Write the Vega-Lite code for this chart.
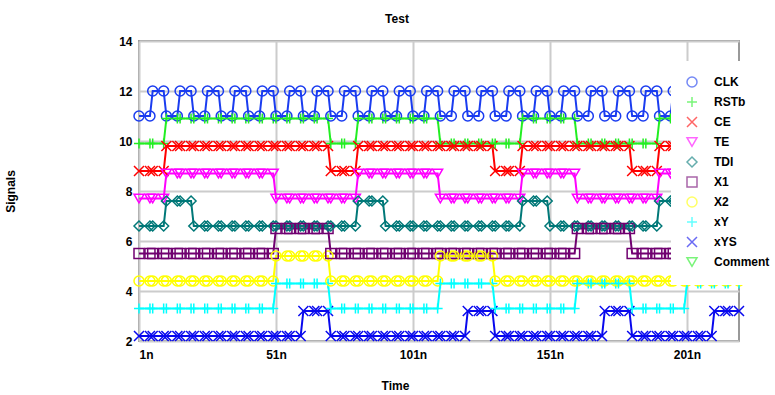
{
  "$schema": "https://vega.github.io/schema/vega-lite/v6.json",
  "width": 600,
  "height": 300,
  "autosize": {"type": "none"},
  "padding": {"left": 139, "top": 41, "right": 36, "bottom": 54},
  "background": "white",
  "title": {"text": "Test", "font": "Liberation Sans", "fontSize": 12, "fontWeight": "bold", "color": "black", "frame": "group", "anchor": "middle", "offset": 9, "dx": -42},
  "config": {
    "view": {"stroke": "#999999", "strokeWidth": 2},
    "axis": {
      "labelFont": "Liberation Sans", "labelFontSize": 12, "labelFontWeight": "bold", "labelColor": "black",
      "titleFont": "Liberation Sans", "titleFontSize": 12, "titleFontWeight": "bold", "titleColor": "black",
      "gridColor": "#cccccc", "gridWidth": 2, "domain": false, "ticks": false
    }
  },
  "data": {"values": [
    {"t":1,"CLK":11,"RSTb":9.9,"CE":8.8,"TE":7.7,"TDI":6.6,"X1":5.5,"X2":4.4,"xY":3.3,"xYS":2.2},
    {"t":5,"CLK":11,"RSTb":9.9,"CE":8.8,"TE":7.7,"TDI":6.6,"X1":5.5,"X2":4.4,"xY":3.3,"xYS":2.2},
    {"t":6,"CLK":12,"RSTb":9.9,"CE":8.8,"TE":7.7,"TDI":6.6,"X1":5.5,"X2":4.4,"xY":3.3,"xYS":2.2},
    {"t":10,"CLK":12,"RSTb":9.9,"CE":8.8,"TE":7.7,"TDI":6.6,"X1":5.5,"X2":4.4,"xY":3.3,"xYS":2.2},
    {"t":11,"CLK":11,"RSTb":10.9,"CE":9.8,"TE":8.7,"TDI":7.6,"X1":5.5,"X2":4.4,"xY":3.3,"xYS":2.2},
    {"t":15,"CLK":11,"RSTb":10.9,"CE":9.8,"TE":8.7,"TDI":7.6,"X1":5.5,"X2":4.4,"xY":3.3,"xYS":2.2},
    {"t":16,"CLK":12,"RSTb":10.9,"CE":9.8,"TE":8.7,"TDI":7.6,"X1":5.5,"X2":4.4,"xY":3.3,"xYS":2.2},
    {"t":20,"CLK":12,"RSTb":10.9,"CE":9.8,"TE":8.7,"TDI":7.6,"X1":5.5,"X2":4.4,"xY":3.3,"xYS":2.2},
    {"t":21,"CLK":11,"RSTb":10.9,"CE":9.8,"TE":8.7,"TDI":6.6,"X1":5.5,"X2":4.4,"xY":3.3,"xYS":2.2},
    {"t":25,"CLK":11,"RSTb":10.9,"CE":9.8,"TE":8.7,"TDI":6.6,"X1":5.5,"X2":4.4,"xY":3.3,"xYS":2.2},
    {"t":26,"CLK":12,"RSTb":10.9,"CE":9.8,"TE":8.7,"TDI":6.6,"X1":5.5,"X2":4.4,"xY":3.3,"xYS":2.2},
    {"t":30,"CLK":12,"RSTb":10.9,"CE":9.8,"TE":8.7,"TDI":6.6,"X1":5.5,"X2":4.4,"xY":3.3,"xYS":2.2},
    {"t":31,"CLK":11,"RSTb":10.9,"CE":9.8,"TE":8.7,"TDI":6.6,"X1":5.5,"X2":4.4,"xY":3.3,"xYS":2.2},
    {"t":35,"CLK":11,"RSTb":10.9,"CE":9.8,"TE":8.7,"TDI":6.6,"X1":5.5,"X2":4.4,"xY":3.3,"xYS":2.2},
    {"t":36,"CLK":12,"RSTb":10.9,"CE":9.8,"TE":8.7,"TDI":6.6,"X1":5.5,"X2":4.4,"xY":3.3,"xYS":2.2},
    {"t":40,"CLK":12,"RSTb":10.9,"CE":9.8,"TE":8.7,"TDI":6.6,"X1":5.5,"X2":4.4,"xY":3.3,"xYS":2.2},
    {"t":41,"CLK":11,"RSTb":10.9,"CE":9.8,"TE":8.7,"TDI":6.6,"X1":5.5,"X2":4.4,"xY":3.3,"xYS":2.2},
    {"t":45,"CLK":11,"RSTb":10.9,"CE":9.8,"TE":8.7,"TDI":6.6,"X1":5.5,"X2":4.4,"xY":3.3,"xYS":2.2},
    {"t":46,"CLK":12,"RSTb":10.9,"CE":9.8,"TE":8.7,"TDI":6.6,"X1":5.5,"X2":4.4,"xY":3.3,"xYS":2.2},
    {"t":50,"CLK":12,"RSTb":10.9,"CE":9.8,"TE":8.7,"TDI":6.6,"X1":5.5,"X2":4.4,"xY":3.3,"xYS":2.2},
    {"t":51,"CLK":11,"RSTb":10.9,"CE":9.8,"TE":7.7,"TDI":6.6,"X1":6.5,"X2":5.4,"xY":4.3,"xYS":2.2},
    {"t":55,"CLK":11,"RSTb":10.9,"CE":9.8,"TE":7.7,"TDI":6.6,"X1":6.5,"X2":5.4,"xY":4.3,"xYS":2.2},
    {"t":56,"CLK":12,"RSTb":10.9,"CE":9.8,"TE":7.7,"TDI":6.6,"X1":6.5,"X2":5.4,"xY":4.3,"xYS":2.2},
    {"t":60,"CLK":12,"RSTb":10.9,"CE":9.8,"TE":7.7,"TDI":6.6,"X1":6.5,"X2":5.4,"xY":4.3,"xYS":2.2},
    {"t":61,"CLK":11,"RSTb":10.9,"CE":9.8,"TE":7.7,"TDI":6.6,"X1":6.5,"X2":5.4,"xY":4.3,"xYS":3.2},
    {"t":65,"CLK":11,"RSTb":10.9,"CE":9.8,"TE":7.7,"TDI":6.6,"X1":6.5,"X2":5.4,"xY":4.3,"xYS":3.2},
    {"t":66,"CLK":12,"RSTb":10.9,"CE":9.8,"TE":7.7,"TDI":6.6,"X1":6.5,"X2":5.4,"xY":4.3,"xYS":3.2},
    {"t":70,"CLK":12,"RSTb":10.9,"CE":9.8,"TE":7.7,"TDI":6.6,"X1":6.5,"X2":5.4,"xY":4.3,"xYS":3.2},
    {"t":71,"CLK":11,"RSTb":9.9,"CE":8.8,"TE":7.7,"TDI":6.6,"X1":5.5,"X2":4.4,"xY":3.3,"xYS":2.2},
    {"t":75,"CLK":11,"RSTb":9.9,"CE":8.8,"TE":7.7,"TDI":6.6,"X1":5.5,"X2":4.4,"xY":3.3,"xYS":2.2},
    {"t":76,"CLK":12,"RSTb":9.9,"CE":8.8,"TE":7.7,"TDI":6.6,"X1":5.5,"X2":4.4,"xY":3.3,"xYS":2.2},
    {"t":80,"CLK":12,"RSTb":9.9,"CE":8.8,"TE":7.7,"TDI":6.6,"X1":5.5,"X2":4.4,"xY":3.3,"xYS":2.2},
    {"t":81,"CLK":11,"RSTb":10.9,"CE":9.8,"TE":8.7,"TDI":7.6,"X1":5.5,"X2":4.4,"xY":3.3,"xYS":2.2},
    {"t":85,"CLK":11,"RSTb":10.9,"CE":9.8,"TE":8.7,"TDI":7.6,"X1":5.5,"X2":4.4,"xY":3.3,"xYS":2.2},
    {"t":86,"CLK":12,"RSTb":10.9,"CE":9.8,"TE":8.7,"TDI":7.6,"X1":5.5,"X2":4.4,"xY":3.3,"xYS":2.2},
    {"t":90,"CLK":12,"RSTb":10.9,"CE":9.8,"TE":8.7,"TDI":7.6,"X1":5.5,"X2":4.4,"xY":3.3,"xYS":2.2},
    {"t":91,"CLK":11,"RSTb":10.9,"CE":9.8,"TE":8.7,"TDI":6.6,"X1":5.5,"X2":4.4,"xY":3.3,"xYS":2.2},
    {"t":95,"CLK":11,"RSTb":10.9,"CE":9.8,"TE":8.7,"TDI":6.6,"X1":5.5,"X2":4.4,"xY":3.3,"xYS":2.2},
    {"t":96,"CLK":12,"RSTb":10.9,"CE":9.8,"TE":8.7,"TDI":6.6,"X1":5.5,"X2":4.4,"xY":3.3,"xYS":2.2},
    {"t":100,"CLK":12,"RSTb":10.9,"CE":9.8,"TE":8.7,"TDI":6.6,"X1":5.5,"X2":4.4,"xY":3.3,"xYS":2.2},
    {"t":101,"CLK":11,"RSTb":10.9,"CE":9.8,"TE":8.7,"TDI":6.6,"X1":5.5,"X2":4.4,"xY":3.3,"xYS":2.2},
    {"t":105,"CLK":11,"RSTb":10.9,"CE":9.8,"TE":8.7,"TDI":6.6,"X1":5.5,"X2":4.4,"xY":3.3,"xYS":2.2},
    {"t":106,"CLK":12,"RSTb":10.9,"CE":9.8,"TE":8.7,"TDI":6.6,"X1":5.5,"X2":4.4,"xY":3.3,"xYS":2.2},
    {"t":110,"CLK":12,"RSTb":10.9,"CE":9.8,"TE":8.7,"TDI":6.6,"X1":5.5,"X2":4.4,"xY":3.3,"xYS":2.2},
    {"t":111,"CLK":11,"RSTb":9.9,"CE":9.8,"TE":7.7,"TDI":6.6,"X1":5.5,"X2":5.4,"xY":4.3,"xYS":2.2},
    {"t":115,"CLK":11,"RSTb":9.9,"CE":9.8,"TE":7.7,"TDI":6.6,"X1":5.5,"X2":5.4,"xY":4.3,"xYS":2.2},
    {"t":116,"CLK":12,"RSTb":9.9,"CE":9.8,"TE":7.7,"TDI":6.6,"X1":5.5,"X2":5.4,"xY":4.3,"xYS":2.2},
    {"t":120,"CLK":12,"RSTb":9.9,"CE":9.8,"TE":7.7,"TDI":6.6,"X1":5.5,"X2":5.4,"xY":4.3,"xYS":2.2},
    {"t":121,"CLK":11,"RSTb":9.9,"CE":9.8,"TE":7.7,"TDI":6.6,"X1":5.5,"X2":5.4,"xY":4.3,"xYS":3.2},
    {"t":125,"CLK":11,"RSTb":9.9,"CE":9.8,"TE":7.7,"TDI":6.6,"X1":5.5,"X2":5.4,"xY":4.3,"xYS":3.2},
    {"t":126,"CLK":12,"RSTb":9.9,"CE":9.8,"TE":7.7,"TDI":6.6,"X1":5.5,"X2":5.4,"xY":4.3,"xYS":3.2},
    {"t":130,"CLK":12,"RSTb":9.9,"CE":9.8,"TE":7.7,"TDI":6.6,"X1":5.5,"X2":5.4,"xY":4.3,"xYS":3.2},
    {"t":131,"CLK":11,"RSTb":9.9,"CE":8.8,"TE":7.7,"TDI":6.6,"X1":5.5,"X2":4.4,"xY":3.3,"xYS":2.2},
    {"t":135,"CLK":11,"RSTb":9.9,"CE":8.8,"TE":7.7,"TDI":6.6,"X1":5.5,"X2":4.4,"xY":3.3,"xYS":2.2},
    {"t":136,"CLK":12,"RSTb":9.9,"CE":8.8,"TE":7.7,"TDI":6.6,"X1":5.5,"X2":4.4,"xY":3.3,"xYS":2.2},
    {"t":140,"CLK":12,"RSTb":9.9,"CE":8.8,"TE":7.7,"TDI":6.6,"X1":5.5,"X2":4.4,"xY":3.3,"xYS":2.2},
    {"t":141,"CLK":11,"RSTb":10.9,"CE":9.8,"TE":8.7,"TDI":7.6,"X1":5.5,"X2":4.4,"xY":3.3,"xYS":2.2},
    {"t":145,"CLK":11,"RSTb":10.9,"CE":9.8,"TE":8.7,"TDI":7.6,"X1":5.5,"X2":4.4,"xY":3.3,"xYS":2.2},
    {"t":146,"CLK":12,"RSTb":10.9,"CE":9.8,"TE":8.7,"TDI":7.6,"X1":5.5,"X2":4.4,"xY":3.3,"xYS":2.2},
    {"t":150,"CLK":12,"RSTb":10.9,"CE":9.8,"TE":8.7,"TDI":7.6,"X1":5.5,"X2":4.4,"xY":3.3,"xYS":2.2},
    {"t":151,"CLK":11,"RSTb":10.9,"CE":9.8,"TE":8.7,"TDI":6.6,"X1":5.5,"X2":4.4,"xY":3.3,"xYS":2.2},
    {"t":155,"CLK":11,"RSTb":10.9,"CE":9.8,"TE":8.7,"TDI":6.6,"X1":5.5,"X2":4.4,"xY":3.3,"xYS":2.2},
    {"t":156,"CLK":12,"RSTb":10.9,"CE":9.8,"TE":8.7,"TDI":6.6,"X1":5.5,"X2":4.4,"xY":3.3,"xYS":2.2},
    {"t":160,"CLK":12,"RSTb":10.9,"CE":9.8,"TE":8.7,"TDI":6.6,"X1":5.5,"X2":4.4,"xY":3.3,"xYS":2.2},
    {"t":161,"CLK":11,"RSTb":9.9,"CE":9.8,"TE":7.7,"TDI":6.6,"X1":6.5,"X2":4.4,"xY":4.3,"xYS":2.2},
    {"t":165,"CLK":11,"RSTb":9.9,"CE":9.8,"TE":7.7,"TDI":6.6,"X1":6.5,"X2":4.4,"xY":4.3,"xYS":2.2},
    {"t":166,"CLK":12,"RSTb":9.9,"CE":9.8,"TE":7.7,"TDI":6.6,"X1":6.5,"X2":4.4,"xY":4.3,"xYS":2.2},
    {"t":170,"CLK":12,"RSTb":9.9,"CE":9.8,"TE":7.7,"TDI":6.6,"X1":6.5,"X2":4.4,"xY":4.3,"xYS":2.2},
    {"t":171,"CLK":11,"RSTb":9.9,"CE":9.8,"TE":7.7,"TDI":6.6,"X1":6.5,"X2":4.4,"xY":4.3,"xYS":3.2},
    {"t":175,"CLK":11,"RSTb":9.9,"CE":9.8,"TE":7.7,"TDI":6.6,"X1":6.5,"X2":4.4,"xY":4.3,"xYS":3.2},
    {"t":176,"CLK":12,"RSTb":9.9,"CE":9.8,"TE":7.7,"TDI":6.6,"X1":6.5,"X2":4.4,"xY":4.3,"xYS":3.2},
    {"t":180,"CLK":12,"RSTb":9.9,"CE":9.8,"TE":7.7,"TDI":6.6,"X1":6.5,"X2":4.4,"xY":4.3,"xYS":3.2},
    {"t":181,"CLK":11,"RSTb":9.9,"CE":8.8,"TE":7.7,"TDI":6.6,"X1":5.5,"X2":4.4,"xY":3.3,"xYS":2.2},
    {"t":185,"CLK":11,"RSTb":9.9,"CE":8.8,"TE":7.7,"TDI":6.6,"X1":5.5,"X2":4.4,"xY":3.3,"xYS":2.2},
    {"t":186,"CLK":12,"RSTb":9.9,"CE":8.8,"TE":7.7,"TDI":6.6,"X1":5.5,"X2":4.4,"xY":3.3,"xYS":2.2},
    {"t":190,"CLK":12,"RSTb":9.9,"CE":8.8,"TE":7.7,"TDI":6.6,"X1":5.5,"X2":4.4,"xY":3.3,"xYS":2.2},
    {"t":191,"CLK":11,"RSTb":10.9,"CE":9.8,"TE":8.7,"TDI":7.6,"X1":5.5,"X2":4.4,"xY":3.3,"xYS":2.2},
    {"t":195,"CLK":11,"RSTb":10.9,"CE":9.8,"TE":8.7,"TDI":7.6,"X1":5.5,"X2":4.4,"xY":3.3,"xYS":2.2},
    {"t":196,"CLK":12,"RSTb":10.9,"CE":9.8,"TE":8.7,"TDI":7.6,"X1":5.5,"X2":4.4,"xY":3.3,"xYS":2.2},
    {"t":200,"CLK":12,"RSTb":10.9,"CE":9.8,"TE":8.7,"TDI":7.6,"X1":5.5,"X2":4.4,"xY":3.3,"xYS":2.2},
    {"t":201,"CLK":11,"RSTb":10.9,"CE":9.8,"TE":8.7,"TDI":6.6,"X1":5.5,"X2":4.4,"xY":4.3,"xYS":2.2},
    {"t":205,"CLK":11,"RSTb":10.9,"CE":9.8,"TE":8.7,"TDI":6.6,"X1":5.5,"X2":4.4,"xY":4.3,"xYS":2.2},
    {"t":206,"CLK":12,"RSTb":10.9,"CE":9.8,"TE":8.7,"TDI":6.6,"X1":5.5,"X2":4.4,"xY":4.3,"xYS":2.2},
    {"t":210,"CLK":12,"RSTb":10.9,"CE":9.8,"TE":8.7,"TDI":6.6,"X1":5.5,"X2":4.4,"xY":4.3,"xYS":2.2},
    {"t":211,"CLK":11,"RSTb":10.9,"CE":9.8,"TE":8.7,"TDI":6.6,"X1":5.5,"X2":4.4,"xY":4.3,"xYS":3.2},
    {"t":215,"CLK":11,"RSTb":10.9,"CE":9.8,"TE":8.7,"TDI":6.6,"X1":5.5,"X2":4.4,"xY":4.3,"xYS":3.2},
    {"t":216,"CLK":12,"RSTb":10.9,"CE":9.8,"TE":8.7,"TDI":6.6,"X1":5.5,"X2":4.4,"xY":4.3,"xYS":3.2},
    {"t":220,"CLK":12,"RSTb":10.9,"CE":9.8,"TE":8.7,"TDI":6.6,"X1":5.5,"X2":4.4,"xY":4.3,"xYS":3.2}
  ]},
  "transform": [{"fold": ["CLK","RSTb","CE","TE","TDI","X1","X2","xY","xYS"], "as": ["signal","value"]}],
  "encoding": {
    "x": {"field": "t", "type": "quantitative",
      "scale": {"domain": [1,220], "nice": false, "zero": false},
      "axis": {"values": [1,51,101,151,201], "labelExpr": "datum.value + 'n'", "title": "Time", "titleX": 256, "titleY": 44, "titleBaseline": "middle", "titleAlign": "center", "labelPadding": 8, "grid": true}},
    "y": {"field": "value", "type": "quantitative",
      "scale": {"domain": [2,14], "nice": false, "zero": false},
      "axis": {"values": [2,4,6,8,10,12,14], "title": "Signals", "titleX": -129, "titleY": 150, "titleAngle": -90, "titleBaseline": "middle", "titleAlign": "center", "labelPadding": 7, "grid": true}},
    "color": {"field": "signal", "type": "nominal",
      "scale": {"domain": ["CLK","RSTb","CE","TE","TDI","X1","X2","xY","xYS","Comment"],
                "range": ["#1a3cf0","#22ee22","#ff0000","#ff00ff","#007878","#700070","#ffff00","#00ffff","#0808ee","#22ee22"]},
      "legend": {"title": null, "orient": "none", "legendX": 532, "legendY": 20, "fillColor": "white", "padding": 15, "symbolSize": 100, "symbolStrokeWidth": 1.5, "symbolOpacity": 0.6, "rowPadding": 4, "labelFont": "Liberation Sans", "labelFontSize": 12, "labelFontWeight": "bold", "labelColor": "black", "labelOffset": 16}}
  },
  "layer": [
    {"mark": {"type": "line", "strokeWidth": 2}},
    {"mark": {"type": "point", "filled": false, "size": 100, "strokeWidth": 1.5, "opacity": 1},
     "encoding": {
       "shape": {"field": "signal", "type": "nominal",
         "scale": {"domain": ["CLK","RSTb","CE","TE","TDI","X1","X2","xY","xYS","Comment"],
                   "range": ["circle","M-1,0L1,0M0,-1L0,1","M-1,-1L1,1M-1,1L1,-1","triangle-down","diamond","square","circle","M-1,0L1,0M0,-1L0,1","M-1,-1L1,1M-1,1L1,-1","triangle-down"]},
         "legend": {"title": null, "orient": "none", "legendX": 532, "legendY": 20, "fillColor": "white", "padding": 15, "symbolSize": 100, "symbolStrokeWidth": 1.5, "symbolOpacity": 0.6, "rowPadding": 4, "labelFont": "Liberation Sans", "labelFontSize": 12, "labelFontWeight": "bold", "labelColor": "black", "labelOffset": 16}}
     }}
  ]
}
